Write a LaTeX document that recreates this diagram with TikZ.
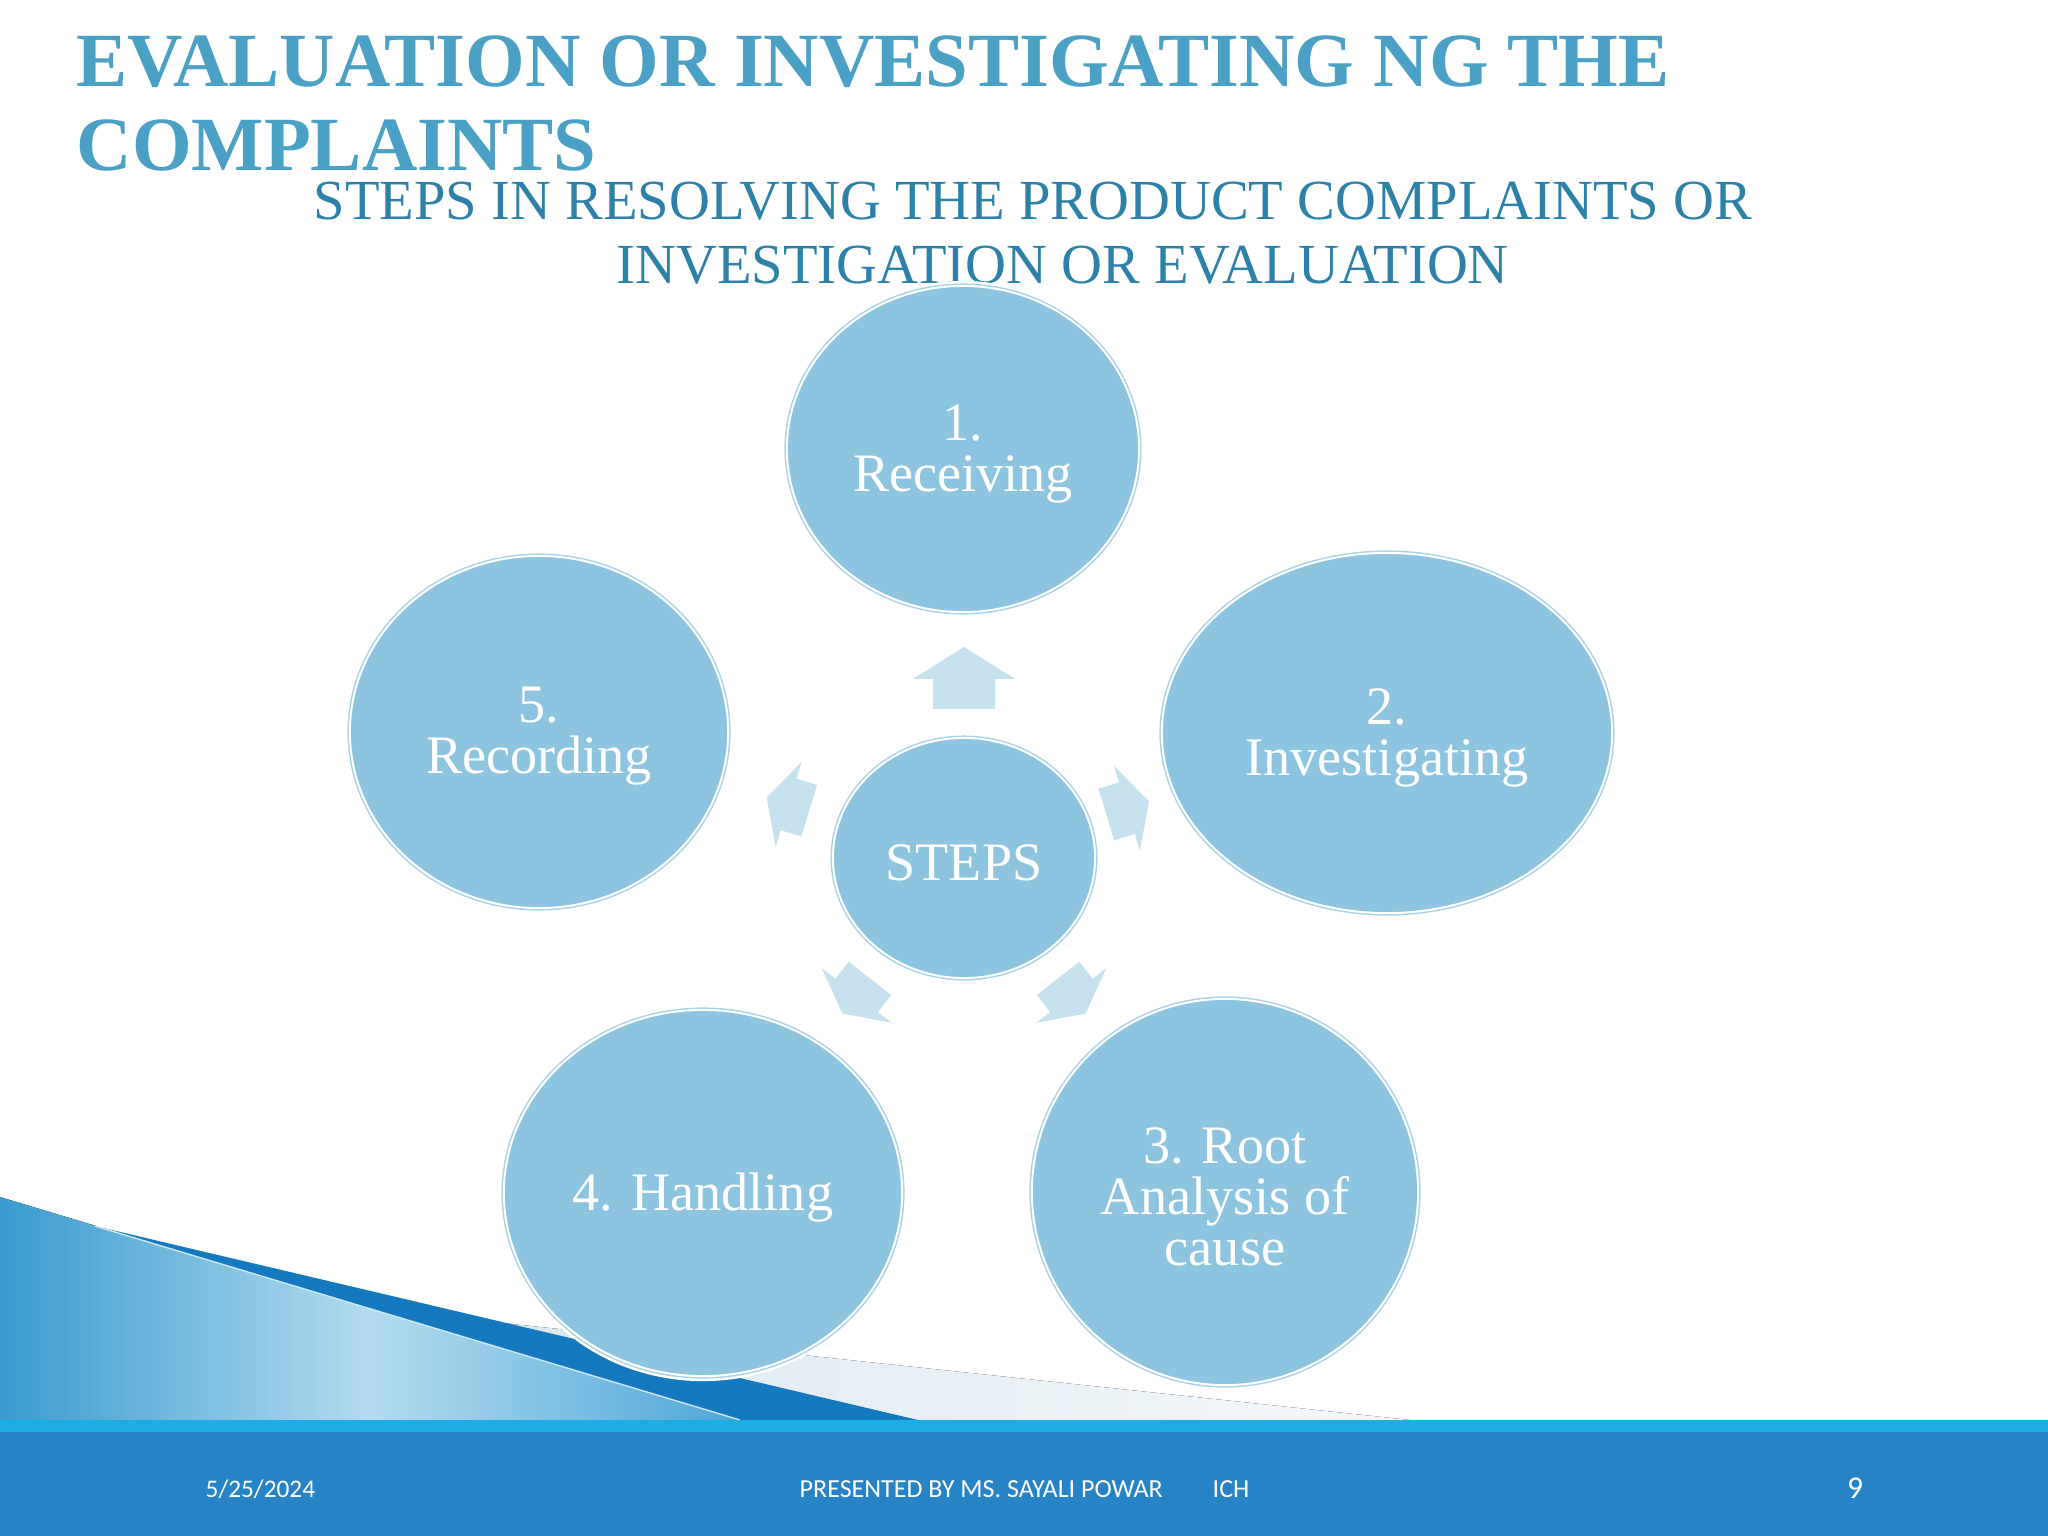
\documentclass[tikz,border=0pt]{standalone}
\usepackage{fontspec}
\setmainfont{Liberation Serif}
\newfontfamily\footfont{Carlito}
\usetikzlibrary{shapes.geometric,calc}
\definecolor{titleblue}{HTML}{4BA0C6}
\definecolor{subblue}{HTML}{2D81A8}
\definecolor{circfill}{HTML}{8DC5E0}
\definecolor{circedge}{HTML}{A8D2E8}
\definecolor{arrowfill}{HTML}{C6E2EF}
\definecolor{footdark}{HTML}{2683C6}
\definecolor{footlight}{HTML}{1CADE4}
\definecolor{swdark}{HTML}{1479BE}
\definecolor{swleft}{HTML}{3A9BD0}
\definecolor{swmid}{HTML}{B4DBEE}
\definecolor{swright}{HTML}{4DA6D8}
\definecolor{paleleft}{HTML}{DCE9F1}
\definecolor{paleright}{HTML}{F4F8FA}
\definecolor{swline}{HTML}{CFE6F3}
\tikzset{
  stepcircle/.style={ellipse, fill=circfill, draw=white, line width=0.57pt,
    inner sep=0pt,
    preaction={draw=white, line width=2.85pt},
    preaction={draw=circedge, line width=1.4pt}},
  circtext/.style={text=white, align=center, inner sep=0pt, yshift=-0.045cm,
    font=\fontsize{15.4pt}{14.5pt}\selectfont},
  titletext/.style={anchor=base west, inner sep=0pt, text=titleblue,
    font=\fontsize{21.8pt}{24pt}\selectfont\bfseries},
  subtext/.style={anchor=base west, inner sep=0pt, text=subblue,
    font=\fontsize{16.1pt}{18pt}\selectfont},
  foottext/.style={anchor=base west, inner sep=0pt, text=white,
    font=\footfont\fontsize{7.2pt}{8pt}\selectfont},
  blockarrow/.pic={\fill[arrowfill] (-31,-31)--(-1,-31)--(-1,-51)--(31,0)--(-1,51)--(-1,31)--(-31,31)--cycle;}
}
\begin{document}
\begin{tikzpicture}[x=0.01cm,y=-0.01cm]
\useasboundingbox (0,0) rectangle (2048,1536);
\fill[white] (0,0) rectangle (2048,1536);
% swoosh
\fill[left color=paleleft, right color=paleright] (503,1323) -- (1410,1420) -- (914,1420) -- cycle;
\fill[left color=swleft, right color=swright, middle color=swmid] (0,1197) -- (740,1420) -- (0,1420) -- cycle;
\fill[swdark] (95,1226) -- (918,1420) -- (740,1420) -- cycle;
\draw[swline, line width=0.4pt] (95,1226) -- (740,1420);
% footer
\fill[footlight] (0,1420) rectangle (2048,1432);
\fill[footdark] (0,1432) rectangle (2048,1536);
\node[foottext] (date) at (205,1497) {5/25/2024};
\node[foottext, font=\footfont\fontsize{7.4pt}{8pt}\selectfont] (pres) at (799,1497) {PRESENTED BY MS. SAYALI POWAR};
\node[foottext, font=\footfont\fontsize{7.4pt}{8pt}\selectfont] (ich) at (1212,1497) {ICH};
\node[foottext, anchor=base, font=\footfont\fontsize{9pt}{10pt}\selectfont] (pg) at (1855,1498) {9};
% titles
\node[titletext] (t1) at (76,86) {EVALUATION OR INVESTIGATING NG THE};
\node[titletext] (t2) at (76,170) {COMPLAINTS};
\node[subtext] (s1) at (313,219) {STEPS IN RESOLVING THE PRODUCT COMPLAINTS OR};
\node[subtext] (s2) at (616,283) {INVESTIGATION OR EVALUATION};
% circles
\node[stepcircle, minimum width=3.52cm, minimum height=3.26cm,
  label={[circtext]center:{1.\\Receiving}}] (c1) at (963,449) {};
\node[stepcircle, minimum width=4.50cm, minimum height=3.60cm,
  label={[circtext]center:{2.\\Investigating}}] (c2) at (1387,733) {};
\node[stepcircle, minimum width=3.86cm, minimum height=3.86cm,
  label={[circtext]center:{3. Root\\Analysis of\\cause}}] (c3) at (1225,1192) {};
\node[stepcircle, minimum width=3.98cm, minimum height=3.66cm,
  label={[circtext]center:{4. Handling}}] (c4) at (703,1193) {};
\node[stepcircle, minimum width=3.78cm, minimum height=3.52cm,
  label={[circtext]center:{5.\\Recording}}] (c5) at (539,732) {};
\node[stepcircle, minimum width=2.62cm, minimum height=2.40cm,
  label={[circtext]center:{STEPS}}] (steps) at (964,858) {};
% block arrows
\pic[rotate=90] at ($(steps.center)+(90:1.80cm)$) {blockarrow};
\pic[rotate=17, xscale=0.72, yscale=0.87] at ($(steps.center)+(17:1.71cm)$) {blockarrow};
\pic[rotate=-52, xscale=0.72, yscale=0.87] at ($(steps.center)+(-52:1.75cm)$) {blockarrow};
\pic[rotate=-128, xscale=0.72, yscale=0.87] at ($(steps.center)+(-128:1.75cm)$) {blockarrow};
\pic[rotate=163, xscale=0.72, yscale=0.87] at ($(steps.center)+(163:1.84cm)$) {blockarrow};
\end{tikzpicture}
\end{document}
